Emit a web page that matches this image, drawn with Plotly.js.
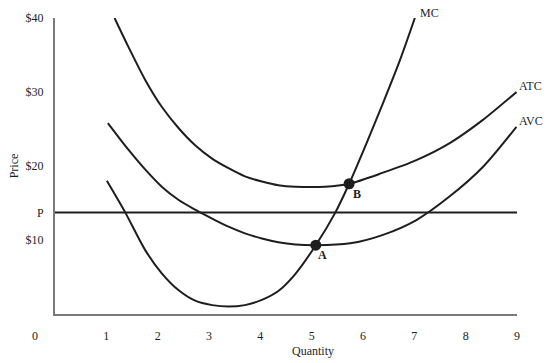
<!DOCTYPE html>
<html>
<head>
<meta charset="utf-8">
<script src="https://cdn.plot.ly/plotly-3.0.1.min.js"></script>
<style>html,body{margin:0;padding:0;background:#fff;}#chart{width:550px;height:363px;}</style>
</head>
<body>
<div id="chart"></div>
<script>
// Data
const mcQ  = [1.01, 1.37, 1.76, 2.08, 2.41, 2.73, 3.06, 3.38, 3.70, 4.03, 4.35, 4.68, 5.08, 5.46, 5.73, 6.07, 6.39, 6.72, 7.01];
const mcP  = [18.0, 13.7, 8.6, 5.5, 3.2, 1.8, 1.2, 1.0, 1.2, 1.9, 3.1, 5.4, 9.3, 13.7, 17.6, 23.1, 28.5, 34.3, 40.0];
const atcQ = [1.16, 1.43, 1.76, 2.08, 2.41, 2.73, 3.06, 3.38, 3.70, 4.03, 4.35, 4.68, 5.26, 5.73, 6.39, 7.04, 7.69, 8.33, 8.99];
const atcP = [40.0, 36.1, 31.6, 28.0, 25.1, 22.8, 21.0, 19.7, 18.6, 17.9, 17.4, 17.2, 17.2, 17.6, 19.1, 20.8, 23.1, 26.2, 30.0];
const avcQ = [1.03, 1.43, 1.76, 2.08, 2.41, 2.73, 3.06, 3.38, 3.70, 4.03, 4.35, 4.68, 5.08, 5.75, 6.39, 7.04, 7.69, 8.34, 8.99];
const avcP = [25.8, 22.2, 19.5, 17.2, 15.4, 14.1, 12.9, 11.8, 10.9, 10.2, 9.7, 9.4, 9.3, 9.55, 10.7, 12.7, 15.9, 19.9, 25.3];
const priceP = 13.7;
const priceQ = [0, 9];
const pointNames = ["A", "B"];
const pointQ = [5.08, 5.73];
const pointP = [9.3, 17.6];
const xTicks = [1, 2, 3, 4, 5, 6, 7, 8, 9];
const yTickVals = [40, 30, 20, priceP, 10];
const yTickText = ["$40", "$30", "$20", "P", "$10"];

const ink = "#1e1e1e";
const font = {family: "Liberation Serif, Times New Roman, serif", size: 12, color: ink};
const lineStyle = {color: ink, width: 2, shape: "spline", smoothing: 0.8};

const traces = [
  {x: mcQ, y: mcP, mode: "lines", line: lineStyle, hoverinfo: "skip"},
  {x: atcQ, y: atcP, mode: "lines", line: lineStyle, hoverinfo: "skip"},
  {x: avcQ, y: avcP, mode: "lines", line: lineStyle, hoverinfo: "skip"},
  {x: priceQ, y: [priceP, priceP], mode: "lines", line: {color: ink, width: 2}, hoverinfo: "skip"},
  {x: pointQ, y: pointP, mode: "markers", marker: {color: ink, size: 11}, hoverinfo: "skip"}
];

const annotations = [
  {x: mcQ[mcQ.length-1], y: mcP[mcP.length-1], text: "MC", showarrow: false, xanchor: "left", yanchor: "middle", xshift: 3, yshift: 5},
  {x: atcQ[atcQ.length-1], y: atcP[atcP.length-1], text: "ATC", showarrow: false, xanchor: "left", yanchor: "middle", xshift: 1, yshift: 6},
  {x: avcQ[avcQ.length-1], y: avcP[avcP.length-1], text: "AVC", showarrow: false, xanchor: "left", yanchor: "middle", xshift: 1, yshift: 6},
  {x: pointQ[0], y: pointP[0], text: "<b>" + pointNames[0] + "</b>", showarrow: false, xanchor: "center", yanchor: "middle", xshift: 7, yshift: -10},
  {x: pointQ[1], y: pointP[1], text: "<b>" + pointNames[1] + "</b>", showarrow: false, xanchor: "center", yanchor: "middle", xshift: 8, yshift: -10},
  {x: 0, y: 0, text: "0", showarrow: false, xanchor: "center", yanchor: "middle", xshift: -20, yshift: -22},
  {x: 5.03, y: 0, text: "Quantity", showarrow: false, xanchor: "center", yanchor: "middle", yshift: -37}
].map(a => Object.assign({font: font}, a));

const layout = {
  width: 550, height: 363,
  margin: {l: 55, r: 33, t: 18, b: 49},
  paper_bgcolor: "#fff", plot_bgcolor: "#fff",
  showlegend: false,
  font: font,
  xaxis: {
    range: [0, 9], tickvals: xTicks, ticktext: xTicks.map(String),
    showgrid: false, zeroline: false, showline: true, linecolor: "#7a7a7a", linewidth: 2,
    ticks: "", ticklabelstandoff: 10, tickfont: font
  },
  yaxis: {
    range: [0, 40], tickvals: yTickVals, ticktext: yTickText,
    showgrid: false, zeroline: false, showline: true, linecolor: "#7a7a7a", linewidth: 2,
    ticks: "", ticklabelstandoff: 7, tickfont: font,
    title: {text: "Price", font: font, standoff: 4}
  },
  annotations: annotations
};

Plotly.newPlot("chart", traces, layout, {displayModeBar: false, staticPlot: true});
</script>
</body>
</html>
